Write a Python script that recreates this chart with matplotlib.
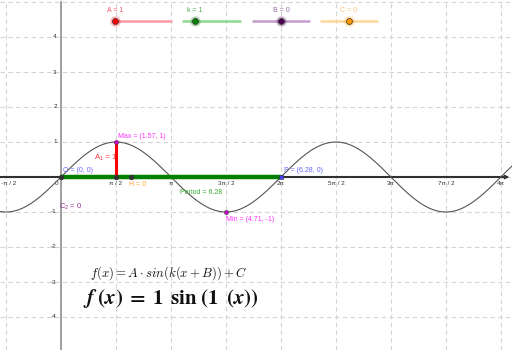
import numpy as np
import matplotlib
matplotlib.use("Agg")
import matplotlib.pyplot as plt

# slider values
A = 1
k = 1
B = 0
C = 0

# special points
max_pt = (1.57, 1)
min_pt = (4.71, -1)
p_pt = (6.28, 0)
h_x = 2.0
period = 6.28

# axis labels
x_ticks = [-np.pi / 2, np.pi / 2, np.pi, 3 * np.pi / 2, 2 * np.pi,
           5 * np.pi / 2, 3 * np.pi, 7 * np.pi / 2, 4 * np.pi]
x_labels = ['-π / 2', 'π / 2', 'π', '3π / 2', '2π', '5π / 2', '3π', '7π / 2', '4π']
y_ticks = [4, 3, 2, 1, -1, -2, -3, -4]

sliders = [('A = 1', A, '#ff4d6a', '#ff9aa8', '#ff0000'),
           ('k = 1', k, '#4caf50', '#8fd98f', '#008000'),
           ('B = 0', B, '#9b6aa9', '#c49ccd', '#4d0050'),
           ('C = 0', C, '#ffc07a', '#ffd699', '#ff9900')]
# slider track ends in pixels (x0, x1, knob)
slider_px = [(115, 171, 115), (183, 240, 195), (253, 309, 281), (321, 377, 349)]

plt.rcParams['font.family'] = ['Liberation Sans', 'DejaVu Sans']
plt.rcParams['mathtext.fontset'] = 'cm'

fig = plt.figure(figsize=(5.12, 3.5), dpi=100)
ax = fig.add_axes([0, 0, 1, 1])
ax.set_xlim(-61 / 35, 451 / 35)
ax.set_ylim(-173 / 35, 177 / 35)
ax.set_aspect('auto')
ax.axis('off')

# grid
for i in range(-1, 9):
    ax.axvline(i * np.pi / 2, color='#d4d4d4', lw=0.8, ls=(0, (4, 3)), zorder=0)
for j in range(-5, 6):
    ax.axhline(j, color='#d4d4d4', lw=0.8, ls=(0, (4, 3)), zorder=0)

# axes
ax.plot([-2, 12.75], [0, 0], color='#303030', lw=1.5, zorder=2)
ax.annotate('', xy=(12.886, 0), xytext=(12.6, 0),
            arrowprops=dict(arrowstyle='-|>', color='#303030', lw=1, mutation_scale=6))
ax.plot([0, 0], [-5, 5.0], color='#999999', lw=1.3, zorder=2)
ax.annotate('', xy=(0, 5.08), xytext=(0, 4.9),
            arrowprops=dict(arrowstyle='-|>', color='#999999', lw=1, mutation_scale=5))

for xv, lab in zip(x_ticks, x_labels):
    ha = 'center'
    if xv < 0:
        # label sits against the left edge, as in the screenshot
        xv, ha = -1.72, 'left'
    ax.text(xv, -0.12, lab, fontsize=4.6, color='#333333', ha=ha, va='top')
ax.text(-0.08, -0.12, '0', fontsize=4.6, color='#333333', ha='right', va='top')
for yv in y_ticks:
    ax.text(-0.12, yv, str(yv), fontsize=4.6, color='#333333', ha='right', va='center')

# curve
xs = np.linspace(-2, 13, 800)
ax.plot(xs, A * np.sin(k * (xs + B)) + C, color='#555555', lw=0.8, zorder=3)

# period segment and amplitude
ax.plot([0, period], [0, 0], color='#008000', lw=3.2, zorder=4, solid_capstyle='butt')
ax.plot([max_pt[0], max_pt[0]], [0, max_pt[1]], color='#ff0000', lw=2.2, zorder=4)

# points
ax.scatter([0, max_pt[0], h_x], [0, 0, 0], s=8, color='#333333', zorder=6)
ax.scatter([max_pt[0], min_pt[0]], [max_pt[1], min_pt[1]], s=9, color='#cc00cc',
           edgecolor='#444444', lw=0.4, zorder=6)
ax.scatter([p_pt[0]], [p_pt[1]], s=9, marker='s', color='#4040ff',
           edgecolor='#333333', lw=0.4, zorder=6)

# labels
ax.text(0.05, 0.08, 'O = (0, 0)', fontsize=5, color='#6666ff', va='bottom')
ax.text(max_pt[0] + 0.05, max_pt[1] + 0.06, 'Max = (1.57, 1)', fontsize=5,
        color='#ff33ff', va='bottom')
ax.text(min_pt[0] + 0.0, min_pt[1] - 0.12, 'Min = (4.71, -1)', fontsize=5,
        color='#ff33ff', va='top')
ax.text(p_pt[0] + 0.1, 0.08, 'P = (6.28, 0)', fontsize=5, color='#6666ff', va='bottom')
ax.text(h_x - 0.05, -0.12, 'H = 0', fontsize=5, color='#ffa030', va='top')
ax.text(3.4, -0.45, 'Period = 6.28', fontsize=5, color='#33aa33', va='center')
ax.text(0.95, 0.55, '$\\mathregular{A_1}$ = 1', fontsize=5.5, color='#ff3333', va='center')
ax.text(-0.05, -0.85, '$\\mathregular{C_2}$ = 0', fontsize=5.5, color='#993399', va='center')

# sliders (drawn in axes pixel coordinates)
for (lab, val, tc, lc, pc), (x0, x1, xk) in zip(sliders, slider_px):
    fx0, fx1, fxk = x0 / 512, x1 / 512, xk / 512
    fy = 1 - 21.3 / 350
    ax.plot([fx0, fx1], [fy, fy], transform=ax.transAxes, color=lc, lw=1.8,
            solid_capstyle='round', zorder=5)
    ax.scatter([fxk], [fy], transform=ax.transAxes, s=55, color=pc, alpha=0.3, zorder=5, lw=0)
    ax.scatter([fxk], [fy], transform=ax.transAxes, s=18, color=pc,
               edgecolor='#333333', lw=0.5, zorder=6)
    ax.text(fxk, 1 - 10.5 / 350, lab, transform=ax.transAxes, fontsize=5,
            color=tc, ha='center', va='center')

# formulas
ax.text(90 / 512, 1 - 273 / 350, '$f(x) = A \\cdot sin(k(x + B)) + C$',
        transform=ax.transAxes, fontsize=9.2, color='#111111', va='center')
ax.text(83 / 512, 1 - 299 / 350,
        '$\\mathbfit{f}\\;\\mathbf{(}\\mathbfit{x}\\mathbf{)}\\;\\mathbf{=}\\;'
        '\\mathbf{1\\;\\;sin\\;(1\\;\\;(}\\mathbfit{x}\\mathbf{))}$',
        transform=ax.transAxes, fontsize=15, color='#111111', va='center',
        math_fontfamily='stix')

fig.savefig('out.png', dpi=100)
